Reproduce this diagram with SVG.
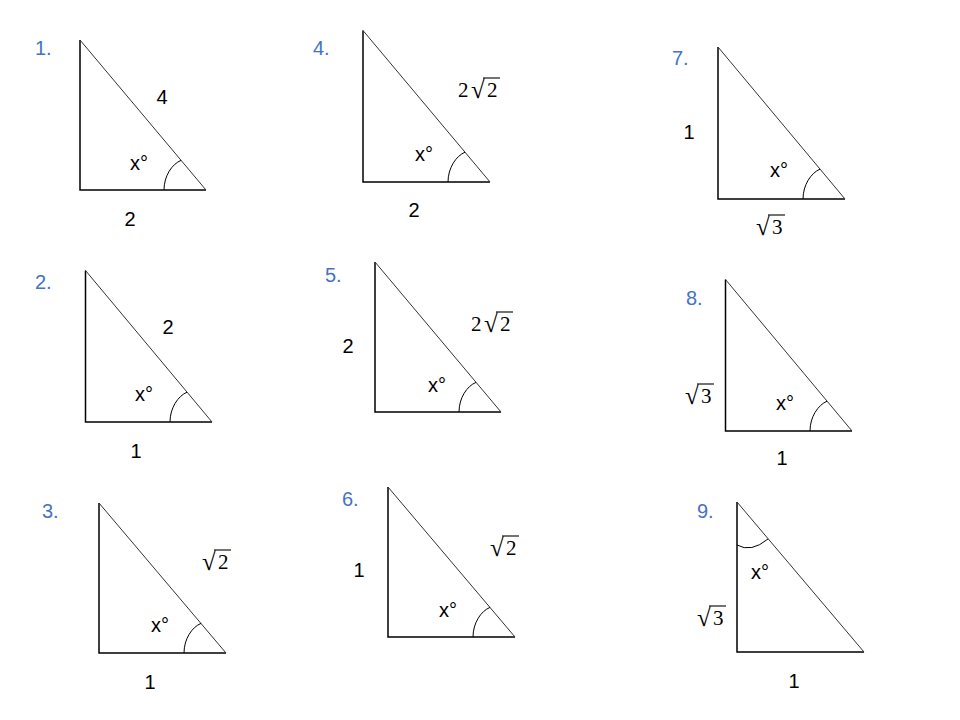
<svg xmlns="http://www.w3.org/2000/svg" width="960" height="720" viewBox="0 0 960 720">
<style>
.leg{fill:none;stroke:#000;stroke-width:1.5}
.hyp{fill:none;stroke:#333;stroke-width:1}
.arc{fill:none;stroke:#000;stroke-width:1}
.num{font-family:"Liberation Sans",Arial,sans-serif;font-size:20px;fill:#4472C4}
.lbl{font-family:"Liberation Sans",Arial,sans-serif;font-size:20px;fill:#000;text-anchor:middle}
.m{font-family:"Liberation Serif","Times New Roman",serif;font-size:21px;fill:#000}
.r{font-size:25px}
.bar{stroke:#000;stroke-width:1.1}
</style>
<rect width="960" height="720" fill="#fff"/>
<g id="connectors"></g>

<g id="t1">
<path class="leg" d="M80,40 V190 H206"/><path class="hyp" d="M80,40 L206,190"/>
<path class="arc" d="M164,190 C164,176 172,164 181,160.4"/>
<text class="num" x="35" y="55">1.</text>
<text class="lbl" x="162" y="104">4</text>
<text class="lbl" x="139" y="170">x°</text>
<text class="lbl" x="130" y="226">2</text>
</g>

<g id="t2">
<path class="leg" d="M85.5,270.5 V422 H212"/><path class="hyp" d="M85.5,270.5 L212,422"/>
<path class="arc" d="M170,422 C170,408 178,396 187,392.2"/>
<text class="num" x="35" y="289">2.</text>
<text class="lbl" x="168" y="334">2</text>
<text class="lbl" x="144" y="401">x°</text>
<text class="lbl" x="136" y="458">1</text>
</g>

<g id="t3">
<path class="leg" d="M99,503 V653 H226"/><path class="hyp" d="M99,503 L226,653"/>
<path class="arc" d="M184,653 C184,639 192,627 201,623.4"/>
<text class="num" x="42" y="518">3.</text>
<text class="m"><tspan class="r" x="202" y="570">√</tspan><tspan x="218" y="569">2</tspan></text>
<line class="bar" x1="214" y1="550" x2="231" y2="550"/>
<text class="lbl" x="160" y="632">x°</text>
<text class="lbl" x="150" y="689">1</text>
</g>

<g id="t4">
<path class="leg" d="M363,30.5 V182 H490"/><path class="hyp" d="M363,30.5 L490,182"/>
<path class="arc" d="M448,182 C448,168 456,156 465,152.2"/>
<text class="num" x="313" y="55">4.</text>
<text class="m"><tspan x="458" y="97">2</tspan><tspan class="r" x="471" y="98">√</tspan><tspan x="487" y="97">2</tspan></text>
<line class="bar" x1="483" y1="78" x2="500" y2="78"/>
<text class="lbl" x="424" y="161">x°</text>
<text class="lbl" x="414" y="217">2</text>
</g>

<g id="t5">
<path class="leg" d="M375,262 V412 H501"/><path class="hyp" d="M375,262 L501,412"/>
<path class="arc" d="M459,412 C459,398 467,386 476,382.4"/>
<text class="num" x="325" y="282">5.</text>
<text class="m"><tspan x="471" y="331">2</tspan><tspan class="r" x="484" y="332">√</tspan><tspan x="500" y="331">2</tspan></text>
<line class="bar" x1="496" y1="312" x2="513" y2="312"/>
<text class="lbl" x="348" y="353">2</text>
<text class="lbl" x="437" y="392">x°</text>
</g>

<g id="t6">
<path class="leg" d="M388,487 V637 H515"/><path class="hyp" d="M388,487 L515,637"/>
<path class="arc" d="M473,637 C473,623 481,611 490,607.4"/>
<text class="num" x="342" y="506">6.</text>
<text class="m"><tspan class="r" x="490" y="556">√</tspan><tspan x="506" y="555">2</tspan></text>
<line class="bar" x1="502" y1="536" x2="519" y2="536"/>
<text class="lbl" x="359" y="577">1</text>
<text class="lbl" x="448" y="617">x°</text>
</g>

<g id="t7">
<path class="leg" d="M718,47 V199 H845"/><path class="hyp" d="M718,47 L845,199"/>
<path class="arc" d="M803,199 C803,185 811,173 820,169.1"/>
<text class="num" x="672" y="65">7.</text>
<text class="lbl" x="689" y="139">1</text>
<text class="lbl" x="779" y="177">x°</text>
<text class="m"><tspan class="r" x="756" y="235">√</tspan><tspan x="772" y="234">3</tspan></text>
<line class="bar" x1="768" y1="215" x2="785" y2="215"/>
</g>

<g id="t8">
<path class="leg" d="M725.5,279.5 V431 H852"/><path class="hyp" d="M725.5,279.5 L852,431"/>
<path class="arc" d="M810,431 C810,417 818,405 827,401.2"/>
<text class="num" x="686" y="305">8.</text>
<text class="m"><tspan class="r" x="685" y="404">√</tspan><tspan x="701" y="403">3</tspan></text>
<line class="bar" x1="697" y1="384" x2="714" y2="384"/>
<text class="lbl" x="785" y="410">x°</text>
<text class="lbl" x="782" y="465">1</text>
</g>

<g id="t9">
<path class="leg" d="M737,502 V652 H864"/><path class="hyp" d="M737,502 L864,652"/>
<path class="arc" d="M737,545 Q751,553 768,539"/>
<text class="num" x="697" y="518">9.</text>
<text class="lbl" x="760" y="579">x°</text>
<text class="m"><tspan class="r" x="697" y="626">√</tspan><tspan x="713" y="625">3</tspan></text>
<line class="bar" x1="709" y1="606" x2="726" y2="606"/>
<text class="lbl" x="794" y="688">1</text>
</g>
</svg>
